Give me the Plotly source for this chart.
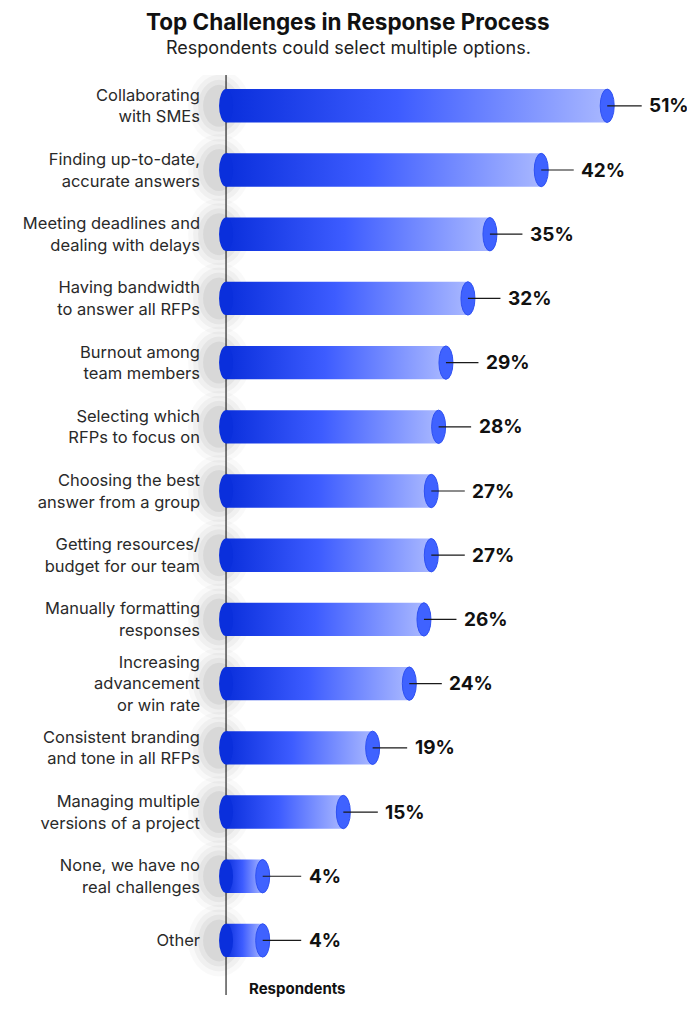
import plotly.graph_objects as go

# Survey data (percent of respondents)
challenges = [
    'Collaborating<br>with SMEs',
    'Finding up-to-date,<br>accurate answers',
    'Meeting deadlines and<br>dealing with delays',
    'Having bandwidth<br>to answer all RFPs',
    'Burnout among<br>team members',
    'Selecting which<br>RFPs to focus on',
    'Choosing the best<br>answer from a group',
    'Getting resources/<br>budget for our team',
    'Manually formatting<br>responses',
    'Increasing<br>advancement<br>or win rate',
    'Consistent branding<br>and tone in all RFPs',
    'Managing multiple<br>versions of a project',
    'None, we have no<br>real challenges',
    'Other',
]
percent = [51, 42, 35, 32, 29, 28, 27, 27, 26, 24, 19, 15, 4, 4]

FONT = 'Inter, Lato, sans-serif'
DARK = '#0A2FDC'
CAP = '#3F62FF'
BASE = -1     # bars start just left of zero (cylinder look)
HALF = 0.26   # half bar thickness in category units

# plot area in figure pixels (the page adds an 8px body margin)
L, T, B = 177, 67, 37
PW, PH = 695 - L, 1024 - T - B
PX_PER_PCT = 7.33
X0 = -6.6

fig = go.Figure()
shapes = []
annotations = []

for i, (name, val) in enumerate(zip(challenges, percent)):
    # cylinder body with horizontal gradient
    fig.add_trace(go.Scatter(
        x=[BASE, val, val, BASE, BASE],
        y=[i - HALF, i - HALF, i + HALF, i + HALF, i - HALF],
        mode='lines', line=dict(width=0),
        fill='toself',
        fillgradient=dict(type='horizontal',
                          colorscale=[[0, DARK], [0.45, '#3D5CFF'], [1, '#A8B7FF']]),
        hoverinfo='skip', showlegend=False,
    ))
    # soft shadow behind the left end
    for r, op in [(36, 0.025), (31, 0.035), (26, 0.045), (21, 0.055)]:
        shapes.append(dict(type='circle', layer='below', xref='x', yref='y',
                           xsizemode='pixel', ysizemode='pixel',
                           xanchor=BASE, yanchor=i,
                           x0=-r - 2, x1=r - 12, y0=-r, y1=r,
                           fillcolor='#000000', opacity=op, line=dict(width=0)))
    # left rounded end
    shapes.append(dict(type='circle', layer='above', xref='x', yref='y',
                       xsizemode='pixel', xanchor=BASE,
                       x0=-7, x1=7, y0=i - HALF, y1=i + HALF,
                       fillcolor=DARK, line=dict(width=0)))
    # right cap (cylinder top)
    shapes.append(dict(type='circle', layer='above', xref='x', yref='y',
                       xsizemode='pixel', xanchor=val,
                       x0=-7, x1=7, y0=i - HALF, y1=i + HALF,
                       fillcolor=CAP, line=dict(color='#2E50F2', width=1)))
    # value label with leader line
    annotations.append(dict(x=val, y=i, xref='x', yref='y',
                            text='<b>%d%%</b>' % val,
                            showarrow=True, arrowhead=0, arrowwidth=1.2,
                            arrowcolor='#1a1a1a', ax=62, ay=0, borderpad=7,
                            font=dict(family=FONT, size=19, color='#111111')))

# vertical axis line
shapes.append(dict(type='line', layer='below', xref='x', yref='paper',
                   x0=BASE, x1=BASE, y0=0, y1=1,
                   line=dict(color='#555555', width=1.5)))

annotations += [
    dict(text='<b>Top Challenges in Response Process</b>', xref='paper', yref='paper',
         x=(340 - L) / PW, y=1 + (T - 14) / PH, xanchor='center', yanchor='middle',
         showarrow=False, font=dict(family=FONT, size=22.5, color='#111111')),
    dict(text='Respondents could select multiple options.', xref='paper', yref='paper',
         x=(340 - L) / PW, y=1 + (T - 40) / PH, xanchor='center', yanchor='middle',
         showarrow=False, font=dict(family=FONT, size=18, color='#222222')),
    dict(text='<b>Respondents</b>', xref='paper', yref='paper',
         x=(289 - L) / PW, y=7 / PH, xanchor='center', yanchor='middle',
         showarrow=False, font=dict(family=FONT, size=15, color='#111111')),
]

fig.update_layout(
    width=695, height=1024,
    margin=dict(l=L, r=0, t=T, b=B),
    paper_bgcolor='white', plot_bgcolor='white',
    shapes=shapes, annotations=annotations,
    showlegend=False,
)
fig.update_xaxes(range=[X0, X0 + PW / PX_PER_PCT], visible=False, fixedrange=True)
fig.update_yaxes(range=[13.85, -0.48], tickvals=list(range(len(challenges))),
                 ticktext=challenges, showgrid=False, zeroline=False,
                 ticks='', ticklabelstandoff=-16,
                 tickfont=dict(family=FONT, size=16.5, color='#2a2a2a'))

fig.write_html('out.html')
